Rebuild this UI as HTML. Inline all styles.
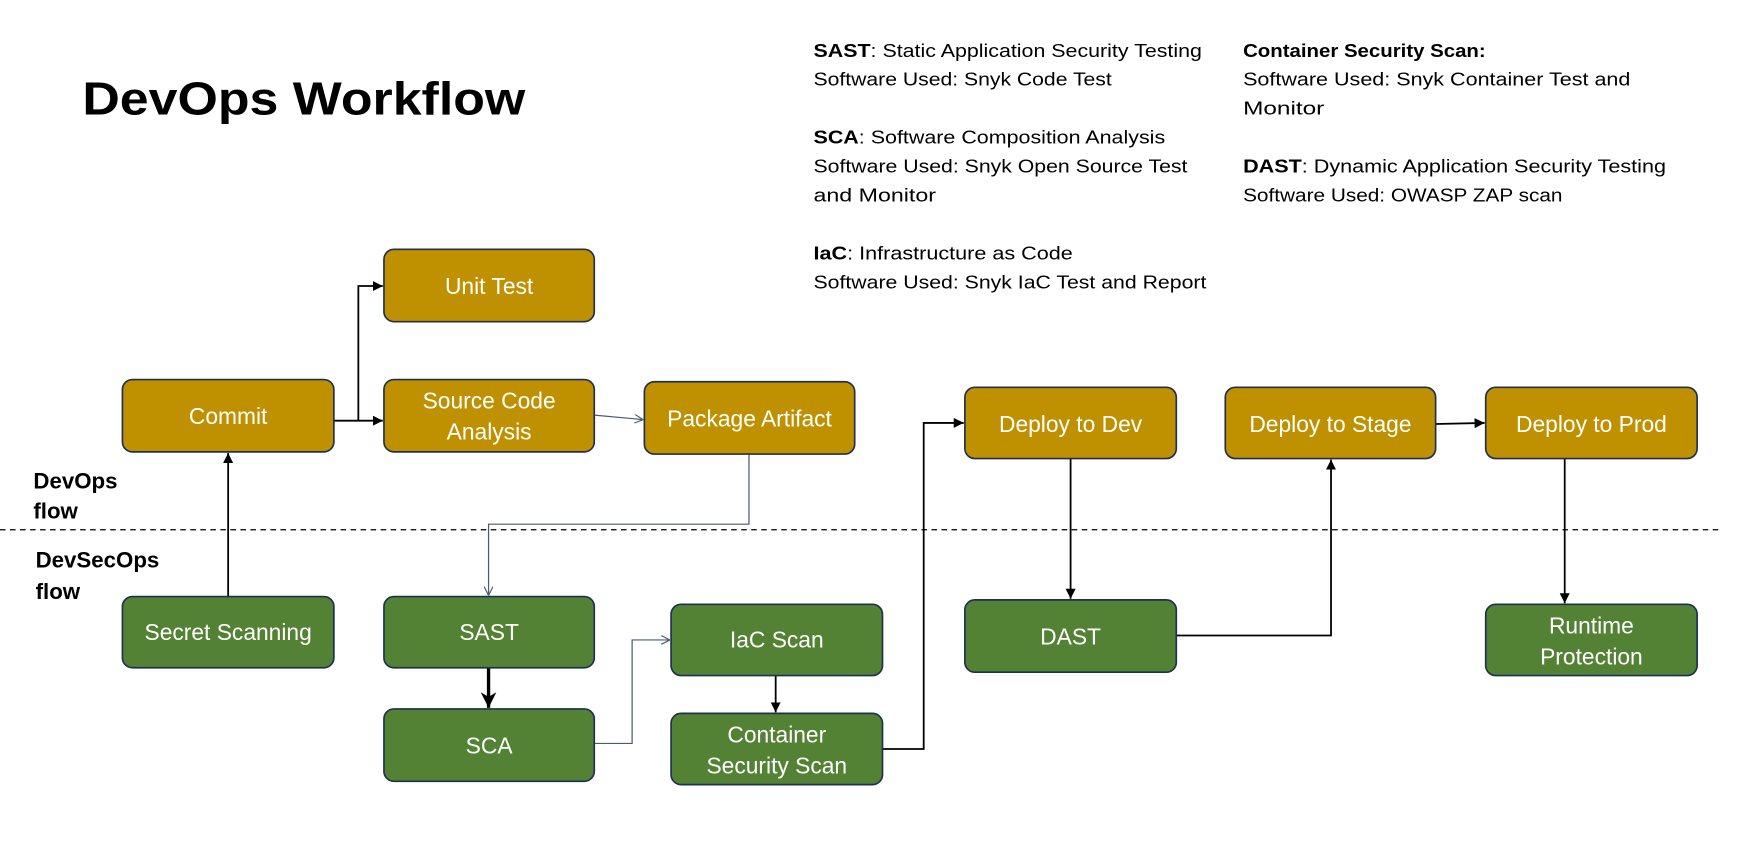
<!DOCTYPE html>
<html><head><meta charset="utf-8"><style>
html,body{margin:0;padding:0;background:#fff;}
svg{display:block;}
text{font-family:"Liberation Sans",sans-serif;}
.b{fill:#BF9000;stroke:#1F3050;stroke-width:1.5;}
.g{fill:#548235;stroke:#1F3050;stroke-width:1.5;}
.t{fill:#fff;font-size:20.5px;text-anchor:middle;}
.l{font-size:16.5px;fill:#000;}
.k{stroke:#000;stroke-width:1.6;fill:none;}
.s{stroke:#4A5A70;stroke-width:1.1;fill:none;}
</style></head><body>
<svg width="1745" height="867" viewBox="0 0 1568 779" xmlns="http://www.w3.org/2000/svg">
<defs>
<marker id="a" viewBox="0 0 10 10" refX="10" refY="5" markerWidth="9" markerHeight="9" orient="auto" markerUnits="userSpaceOnUse"><path d="M0,0 L10,5 L0,10 z" fill="#000"/></marker>
<marker id="ag" viewBox="0 0 10 10" refX="10" refY="5" markerWidth="8" markerHeight="8" orient="auto" markerUnits="userSpaceOnUse"><path d="M0,0 L10,5 L0,10" fill="none" stroke="#4A5A70" stroke-width="1.3"/></marker>
<marker id="ab" viewBox="0 0 10 10" refX="10" refY="5" markerWidth="14" markerHeight="14" orient="auto" markerUnits="userSpaceOnUse"><path d="M0,0 L10,5 L0,10 L3,5 z" fill="#000"/></marker>
</defs>

<text x="74" y="103" font-size="42" font-weight="bold" textLength="398" lengthAdjust="spacingAndGlyphs">DevOps Workflow</text>

<text class="l" x="731" y="51" textLength="349" lengthAdjust="spacingAndGlyphs"><tspan font-weight="bold">SAST</tspan>: Static Application Security Testing</text>
<text class="l" x="731" y="77" textLength="268" lengthAdjust="spacingAndGlyphs">Software Used: Snyk Code Test</text>
<text class="l" x="731" y="129" textLength="316" lengthAdjust="spacingAndGlyphs"><tspan font-weight="bold">SCA</tspan>: Software Composition Analysis</text>
<text class="l" x="731" y="155" textLength="336" lengthAdjust="spacingAndGlyphs">Software Used: Snyk Open Source Test</text>
<text class="l" x="731" y="181" textLength="110" lengthAdjust="spacingAndGlyphs">and Monitor</text>
<text class="l" x="731" y="233" textLength="233" lengthAdjust="spacingAndGlyphs"><tspan font-weight="bold">IaC</tspan>: Infrastructure as Code</text>
<text class="l" x="731" y="259" textLength="353" lengthAdjust="spacingAndGlyphs">Software Used: Snyk IaC Test and Report</text>
<text class="l" x="1117" y="51" font-weight="bold" textLength="218" lengthAdjust="spacingAndGlyphs">Container Security Scan:</text>
<text class="l" x="1117" y="77" textLength="348" lengthAdjust="spacingAndGlyphs">Software Used: Snyk Container Test and</text>
<text class="l" x="1117" y="103" textLength="73" lengthAdjust="spacingAndGlyphs">Monitor</text>
<text class="l" x="1117" y="155" textLength="380" lengthAdjust="spacingAndGlyphs"><tspan font-weight="bold">DAST</tspan>: Dynamic Application Security Testing</text>
<text class="l" x="1117" y="181" textLength="287" lengthAdjust="spacingAndGlyphs">Software Used: OWASP ZAP scan</text>

<text x="30" y="439" font-size="20" font-weight="bold">DevOps</text>
<text x="30" y="466" font-size="20" font-weight="bold">flow</text>
<text x="32" y="510" font-size="20" font-weight="bold">DevSecOps</text>
<text x="32" y="538" font-size="20" font-weight="bold">flow</text>

<line x1="0" y1="476" x2="1545" y2="476" stroke="#000" stroke-width="1.2" stroke-dasharray="5,4"/>

<path class="k" d="M300,378 L344,378" marker-end="url(#a)"/>
<path class="k" d="M322,378 L322,257 L344,257" marker-end="url(#a)"/>
<path class="s" d="M534,373 L578,377" marker-end="url(#ag)"/>
<path class="s" d="M673,408 L673,471 L439,471 L439,535" marker-end="url(#ag)"/>
<path class="k" d="M205,536 L205,407" marker-end="url(#a)"/>
<path d="M439,600 L439,636" stroke="#000" stroke-width="3" fill="none" marker-end="url(#ab)"/>
<path class="s" d="M534,668 L568,668 L568,575 L602,575" marker-end="url(#ag)"/>
<path class="k" d="M697,607 L697,640" marker-end="url(#a)"/>
<path class="k" d="M793,673 L830,673 L830,380 L866,380" marker-end="url(#a)"/>
<path class="k" d="M962,412 L962,538" marker-end="url(#a)"/>
<path class="k" d="M1057,571 L1196,571 L1196,413" marker-end="url(#a)"/>
<path class="k" d="M1290,381 L1334,380" marker-end="url(#a)"/>
<path class="k" d="M1406,412 L1406,542" marker-end="url(#a)"/>

<rect class="b" x="345" y="224" width="189" height="65" rx="9"/><text class="t" x="439.5" y="264">Unit Test</text>
<rect class="b" x="110" y="341" width="190" height="65" rx="9"/><text class="t" x="205" y="381">Commit</text>
<rect class="b" x="345" y="341" width="189" height="65" rx="9"/><text class="t" x="439.5" y="367">Source Code</text><text class="t" x="439.5" y="395">Analysis</text>
<rect class="b" x="579" y="343" width="189" height="65" rx="9"/><text class="t" x="673.5" y="383">Package Artifact</text>
<rect class="b" x="867" y="348" width="190" height="64" rx="9"/><text class="t" x="962" y="388">Deploy to Dev</text>
<rect class="b" x="1101" y="348" width="189" height="64" rx="9"/><text class="t" x="1195.5" y="388">Deploy to Stage</text>
<rect class="b" x="1335" y="348" width="190" height="64" rx="9"/><text class="t" x="1430" y="388">Deploy to Prod</text>

<rect class="g" x="110" y="536" width="190" height="64" rx="9"/><text class="t" x="205" y="575">Secret Scanning</text>
<rect class="g" x="345" y="536" width="189" height="64" rx="9"/><text class="t" x="439.5" y="575">SAST</text>
<rect class="g" x="603" y="543" width="190" height="64" rx="9"/><text class="t" x="698" y="582">IaC Scan</text>
<rect class="g" x="345" y="637" width="189" height="65" rx="9"/><text class="t" x="439.5" y="677">SCA</text>
<rect class="g" x="603" y="641" width="190" height="64" rx="9"/><text class="t" x="698" y="667">Container</text><text class="t" x="698" y="695">Security Scan</text>
<rect class="g" x="867" y="539" width="190" height="65" rx="9"/><text class="t" x="962" y="579">DAST</text>
<rect class="g" x="1335" y="543" width="190" height="64" rx="9"/><text class="t" x="1430" y="569">Runtime</text><text class="t" x="1430" y="597">Protection</text>
</svg>
</body></html>
